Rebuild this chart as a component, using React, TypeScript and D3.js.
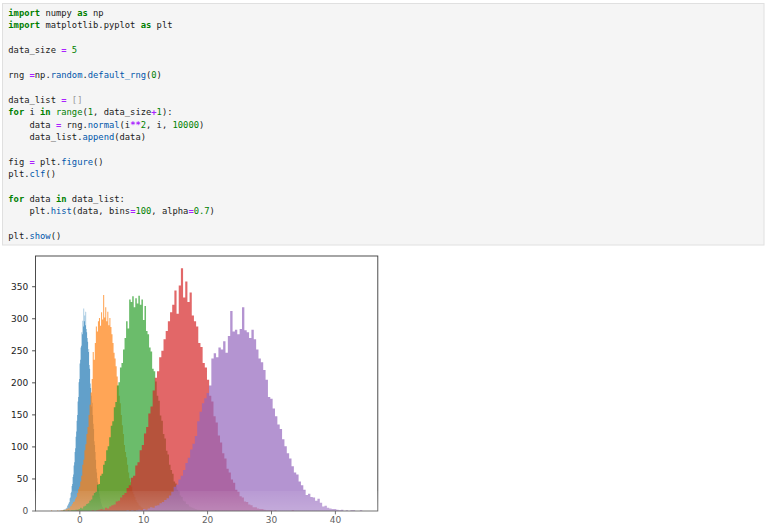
import React from "react";
import * as d3 from "d3";

// ---------- DATA ----------
const seriesNames = ["N(1,1)", "N(4,2)", "N(9,3)", "N(16,4)", "N(25,5)"];
const seriesColors = ["#1f77b4", "#ff7f0e", "#2ca02c", "#d62728", "#9467bd"];
// [min, max] of each histogram's bin range (100 equal bins)
const binRanges: [number, number][] = [
  [-3.15, 4.65],
  [-4.5, 11.8],
  [-2.6, 21.4],
  [-0.5, 33.5],
  [7.3, 44.2],
];
const countsBlue = [
  1, 0, 0, 0, 1, 0, 1, 2, 1, 2, 3, 2, 4, 5, 4, 8, 9, 11, 13, 14,
  20, 21, 28, 30, 39, 42, 53, 57, 71, 76, 92, 98, 116, 124, 141, 150, 171, 178, 201, 206,
  230, 236, 255, 258, 279, 276, 297, 288, 316, 296, 305, 290, 311, 284, 279, 270, 264, 248, 253, 228,
  222, 199, 192, 180, 163, 169, 150, 136, 128, 109, 103, 92, 80, 66, 60, 51, 45, 36, 33, 27,
  22, 19, 15, 12, 10, 7, 6, 5, 4, 3, 2, 2, 1, 1, 0, 1, 0, 0, 0, 1,
];
const countsOrange = [
  1, 0, 0, 0, 0, 0, 1, 0, 0, 1, 1, 1, 2, 1, 3, 3, 5, 4, 7, 8,
  11, 14, 15, 19, 22, 28, 34, 38, 46, 55, 72, 80, 95, 104, 120, 131, 150, 166, 185, 206,
  248, 236, 262, 288, 280, 296, 301, 289, 310, 299, 337, 302, 318, 296, 311, 290, 301, 287, 276, 262,
  247, 238, 226, 210, 196, 180, 168, 150, 134, 120, 103, 92, 84, 72, 60, 51, 45, 38, 30, 26,
  22, 17, 14, 12, 9, 8, 6, 5, 4, 3, 2, 2, 1, 1, 1, 0, 0, 1, 0, 1,
];
const countsGreen = [
  1, 0, 0, 1, 0, 1, 1, 1, 2, 2, 3, 5, 4, 7, 8, 11, 12, 16, 18, 24,
  28, 30, 41, 42, 55, 58, 72, 78, 95, 101, 115, 133, 140, 162, 170, 196, 201, 224, 231, 252,
  270, 296, 285, 330, 326, 335, 318, 332, 324, 336, 322, 330, 298, 320, 281, 276, 255, 249, 222, 218,
  202, 180, 172, 149, 141, 120, 113, 94, 88, 72, 64, 58, 46, 43, 33, 31, 24, 22, 16, 15,
  11, 10, 7, 6, 5, 4, 3, 2, 2, 1, 1, 1, 0, 1, 0, 0, 0, 0, 0, 1,
];
const countsRed = [
  1, 0, 0, 0, 0, 0, 0, 1, 0, 1, 2, 3, 2, 5, 4, 7, 9, 10, 15, 16,
  21, 25, 28, 36, 40, 52, 55, 71, 76, 95, 103, 121, 131, 152, 163, 188, 208, 218, 240, 250,
  268, 281, 296, 310, 322, 344, 308, 352, 379, 333, 358, 326, 341, 305, 296, 288, 262, 256, 231, 224,
  205, 180, 171, 148, 138, 118, 107, 90, 82, 66, 60, 49, 44, 33, 30, 23, 21, 15, 14, 10,
  9, 6, 6, 4, 3, 3, 2, 1, 1, 1, 0, 1, 0, 0, 0, 0, 0, 0, 0, 1,
];
const countsPurple = [
  1, 0, 1, 0, 1, 2, 1, 3, 2, 4, 6, 5, 8, 9, 12, 14, 17, 20, 24, 30,
  38, 41, 49, 55, 64, 75, 83, 96, 105, 117, 140, 155, 168, 176, 184, 196, 238, 246, 240, 255,
  252, 265, 247, 273, 312, 280, 283, 276, 284, 318, 282, 279, 270, 283, 268, 252, 238, 232, 220, 205,
  178, 175, 160, 148, 135, 128, 112, 101, 90, 82, 70, 60, 57, 46, 40, 33, 25, 27, 22, 21,
  16, 19, 13, 7, 8, 5, 4, 3, 3, 2, 1, 2, 0, 1, 0, 1, 1, 0, 0, 1,
];
const seriesCounts = [countsBlue, countsOrange, countsGreen, countsRed, countsPurple];
const yTicks = [0, 50, 100, 150, 200, 250, 300, 350];
const xTicks = [0, 10, 20, 30, 40];

const codeLines = [
  "import numpy as np",
  "import matplotlib.pyplot as plt",
  "",
  "data_size = 5",
  "",
  "rng =np.random.default_rng(0)",
  "",
  "data_list = []",
  "for i in range(1, data_size+1):",
  "    data = rng.normal(i**2, i, 10000)",
  "    data_list.append(data)",
  "",
  "fig = plt.figure()",
  "plt.clf()",
  "",
  "for data in data_list:",
  "    plt.hist(data, bins=100, alpha=0.7)",
  "",
  "plt.show()",
];

// ---------- LAYOUT ----------
const W = 768;
const H = 523;
const axLeft = 35.5;
const axRight = 377.8;
const axTop = 256;
const axBottom = 511;

const KEYWORDS = new Set(["import", "as", "for", "in"]);
const BUILTINS = new Set(["range"]);

type Tok = { text: string; kind: string };
function tokenize(line: string): Tok[] {
  const re = /(\s+)|([A-Za-z_][A-Za-z_0-9]*)|(\d+\.?\d*)|(\*\*|[=+])|([\[\]])|(.)/g;
  const out: Tok[] = [];
  let m: RegExpExecArray | null;
  let prevSig = "";
  const isImport = line.trim().startsWith("import");
  while ((m = re.exec(line)) !== null) {
    const t = m[0];
    let kind = "plain";
    if (m[1]) kind = "space";
    else if (m[2]) {
      if (KEYWORDS.has(t)) kind = "kw";
      else if (BUILTINS.has(t)) kind = "builtin";
      else if (prevSig === "." && !isImport) kind = "prop";
    } else if (m[3]) kind = "num";
    else if (m[4]) kind = "op";
    else if (m[5]) kind = "bracket";
    out.push({ text: t, kind });
    if (!m[1]) prevSig = t;
  }
  return out;
}

const tokStyle: Record<string, { fill: string; fontWeight?: string }> = {
  plain: { fill: "#1a1a1a" },
  space: { fill: "#1a1a1a" },
  kw: { fill: "#008000", fontWeight: "bold" },
  builtin: { fill: "#008000" },
  prop: { fill: "#0055aa" },
  num: { fill: "#008000" },
  op: { fill: "#aa22ff", fontWeight: "bold" },
  bracket: { fill: "#999999" },
};

export default function App() {
  const allMin = d3.min(binRanges, (r) => r[0]) as number;
  const allMax = d3.max(binRanges, (r) => r[1]) as number;
  const span = allMax - allMin;
  const x = d3
    .scaleLinear()
    .domain([allMin - 0.05 * span, allMax + 0.05 * span])
    .range([axLeft, axRight]);
  const maxCount = d3.max(seriesCounts, (c) => d3.max(c)) as number;
  const y = d3.scaleLinear().domain([0, maxCount * 1.05]).range([axBottom, axTop]);

  const area = d3
    .area<[number, number]>()
    .x((d) => x(d[0]))
    .y0(y(0))
    .y1((d) => y(d[1]))
    .curve(d3.curveStepAfter);

  return (
    <svg
      width={W}
      height={H}
      style={{ position: "absolute", left: 0, top: 0, background: "#fff" }}
    >
      <defs>
        <linearGradient id="fade" x1="0" y1="0" x2="0" y2="1">
          <stop offset="0" stopColor="#fff" stopOpacity={0.06} />
          <stop offset="1" stopColor="#fff" stopOpacity={0.3} />
        </linearGradient>
      </defs>
      {/* code cell */}
      <rect x={2.5} y={3.5} width={761.5} height={241.5} fill="#f5f5f5" stroke="#e0e0e0" />
      <g fontFamily="'DejaVu Sans Mono', monospace" fontSize={8.8}>
        {codeLines.map((line, k) => (
          <text
            key={k}
            x={8.3}
            y={16 + k * 12.4}
            xmlSpace="preserve"
            style={{ whiteSpace: "pre" }}
          >
            {tokenize(line).map((t, j) => (
              <tspan key={j} fill={tokStyle[t.kind].fill} fontWeight={tokStyle[t.kind].fontWeight}>
                {t.text}
              </tspan>
            ))}
          </text>
        ))}
      </g>

      {/* histograms: one step-shaped area per series */}
      <g>
        {seriesCounts.map((counts, s) => {
          const [lo, hi] = binRanges[s];
          const w = (hi - lo) / counts.length;
          const pts: [number, number][] = counts.map((c, i) => [lo + i * w, c]);
          pts.push([hi, counts[counts.length - 1]]);
          return (
            <path
              key={seriesNames[s]}
              d={area(pts) || ""}
              fill={seriesColors[s]}
              fillOpacity={0.7}
              stroke="none"
            />
          );
        })}
      </g>

      {/* axes frame */}
      <rect
        x={axLeft}
        y={axTop}
        width={axRight - axLeft}
        height={axBottom - axTop}
        fill="none"
        stroke="#3a3a3a"
        strokeWidth={0.9}
      />
      <g fontFamily="'DejaVu Sans', sans-serif" fontSize={9} fill="#222">
        {yTicks.map((t) => (
          <g key={"y" + t}>
            <line x1={axLeft - 3.4} x2={axLeft} y1={y(t)} y2={y(t)} stroke="#3a3a3a" strokeWidth={0.9} />
            <text x={axLeft - 7.2} y={y(t)} dy="0.33em" textAnchor="end">
              {t}
            </text>
          </g>
        ))}
        {xTicks.map((t) => (
          <g key={"x" + t}>
            <line x1={x(t)} x2={x(t)} y1={axBottom} y2={axBottom + 3.4} stroke="#3a3a3a" strokeWidth={0.9} />
            <text x={x(t)} y={axBottom + 12} textAnchor="middle">
              {t}
            </text>
          </g>
        ))}
      </g>
      {/* screenshot bottom fade */}
      <rect x={0} y={491} width={W} height={H - 491} fill="url(#fade)" />
    </svg>
  );
}
